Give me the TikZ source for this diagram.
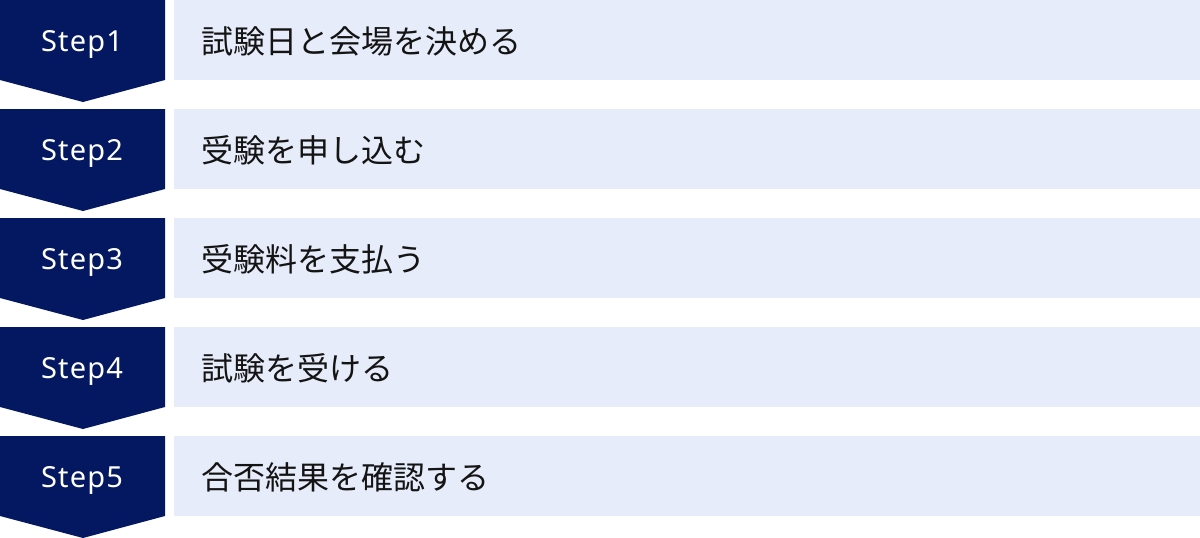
\documentclass[tikz,border=0pt]{standalone}
\usepackage{fontspec}
\newfontfamily\jpfont{Noto Sans CJK JP}
\newfontfamily\stepfont[LetterSpace=4]{Noto Sans}
\definecolor{stepnavy}{RGB}{4,24,98}
\definecolor{rowblue}{RGB}{230,236,249}

\begin{document}
\begin{tikzpicture}[x=1pt, y=-1pt]

\tikzstyle{steplabel} = [text=white, inner sep=0pt, font=\stepfont\fontsize{29}{34}\selectfont]
\tikzstyle{rowlabel} = [anchor=west, inner sep=0pt, text=black!92, font=\jpfont\fontsize{32}{38}\selectfont]

\useasboundingbox (0,0) rectangle (1200,538);

% chevrons
\fill[stepnavy] (0,0) -- (165,0) -- (165,80) -- (83,102) -- (0,80) -- cycle;
\fill[stepnavy] (0,109) -- (165,109) -- (165,189) -- (83,211) -- (0,189) -- cycle;
\fill[stepnavy] (0,218) -- (165,218) -- (165,298) -- (83,320) -- (0,298) -- cycle;
\fill[stepnavy] (0,327) -- (165,327) -- (165,407) -- (83,429) -- (0,407) -- cycle;
\fill[stepnavy] (0,436) -- (165,436) -- (165,516) -- (83,538) -- (0,516) -- cycle;

% rows
\fill[rowblue] (174,0) rectangle (1200,80);
\fill[rowblue] (174,109) rectangle (1200,189);
\fill[rowblue] (174,218) rectangle (1200,298);
\fill[rowblue] (174,327) rectangle (1200,407);
\fill[rowblue] (174,436) rectangle (1200,516);

\node[steplabel] (s1) at (82,44) {Step1};
\node[steplabel] (s2) at (82,153) {Step2};
\node[steplabel] (s3) at (82,262) {Step3};
\node[steplabel] (s4) at (82,371) {Step4};
\node[steplabel] (s5) at (82,480) {Step5};

\node[rowlabel] (r1) at (201,41) {試験日と会場を決める};
\node[rowlabel] (r2) at (201,150) {受験を申し込む};
\node[rowlabel] (r3) at (201,259) {受験料を支払う};
\node[rowlabel] (r4) at (201,368) {試験を受ける};
\node[rowlabel] (r5) at (201,477) {合否結果を確認する};

\end{tikzpicture}
\end{document}
